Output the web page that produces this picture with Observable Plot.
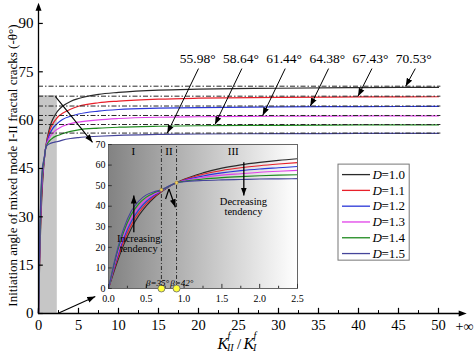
<!DOCTYPE html>
<html><head><meta charset="utf-8">
<script src="https://cdn.jsdelivr.net/npm/d3@7"></script>
<script src="https://cdn.jsdelivr.net/npm/@observablehq/plot@0.6"></script>
<style>
html,body{margin:0;padding:0;background:#fff;}
#wrap{position:relative;width:474px;height:353px;overflow:hidden;}
#wrap svg{position:absolute;}
#wrap text{font-family:'Liberation Serif','Times New Roman',serif;}
</style></head><body><div id="wrap"></div>
<script>
// K_II / K_I ratio sample points
const ratio = [0, 0.1, 0.2, 0.3, 0.4, 0.5, 0.6, 0.7, 0.8, 0.9, 1.0, 1.25, 1.5, 1.75, 2.0, 2.25, 2.5, 3, 4, 5, 7.5, 10, 15, 20, 30, 40, 50];
// initiation angle (-theta, degrees) per fractal dimension D
const theta10 = [0, 11.2, 21.1, 29.1, 35.4, 40.2, 44.0, 47.0, 49.5, 51.4, 53.1, 56.2, 58.5, 60.1, 61.3, 62.3, 63.1, 64.3, 65.8, 66.7, 68.0, 68.6, 69.3, 69.6, 69.9, 70.1, 70.15];
const theta11 = [0, 12.3, 22.7, 30.8, 36.8, 41.3, 44.6, 47.2, 49.6, 51.4, 52.9, 55.5, 57.4, 58.7, 59.7, 60.5, 61.2, 62.1, 63.4, 64.3, 65.4, 65.9, 66.5, 66.8, 67.05, 67.2, 67.25];
const theta12 = [0, 13.3, 24.3, 32.5, 38.2, 42.3, 45.2, 47.4, 49.6, 51.4, 52.6, 54.7, 56.2, 57.3, 58.1, 58.7, 59.3, 60.2, 61.2, 61.9, 62.8, 63.3, 63.7, 63.9, 64.1, 64.2, 64.25];
const theta13 = [0, 14.4, 25.8, 34.1, 39.7, 43.4, 45.8, 47.6, 49.7, 51.4, 52.4, 54.0, 55.1, 55.8, 56.5, 57.0, 57.4, 58.1, 58.9, 59.4, 60.1, 60.5, 60.9, 61.05, 61.2, 61.3, 61.33];
const theta14 = [0, 15.4, 27.4, 35.8, 41.1, 44.4, 46.4, 47.8, 49.7, 51.4, 52.1, 53.2, 53.9, 54.4, 54.8, 55.1, 55.3, 55.8, 56.5, 57.0, 57.5, 57.8, 58.1, 58.25, 58.4, 58.5, 58.52];
const theta15 = [0, 16.5, 29.0, 37.5, 42.5, 45.5, 47.0, 48.0, 49.8, 51.4, 51.9, 52.5, 52.8, 53.0, 53.2, 53.3, 53.4, 53.8, 54.3, 54.6, 55.0, 55.3, 55.55, 55.7, 55.8, 55.87, 55.9];
const dLabels = ["1.0", "1.1", "1.2", "1.3", "1.4", "1.5"];
const colors = ["#2a2a2a", "#e8202a", "#2a36d8", "#e040e8", "#1f8a1f", "#45459a"];
const asymptotes = [55.98, 58.64, 61.44, 64.38, 67.43, 70.53];
const asymptoteLabels = ["55.98°", "58.64°", "61.44°", "64.38°", "67.43°", "70.53°"];
const xTicks = [0, 5, 10, 15, 20, 25, 30, 35, 40, 45, 50];
const xMinor = [2.5, 7.5, 12.5, 17.5, 22.5, 27.5, 32.5, 37.5, 42.5, 47.5];
const yTicks = [0, 15, 30, 45, 60, 75, 90];
const insetXTicks = [0, 0.5, 1.0, 1.5, 2.0, 2.5];
const insetXMinor = [0.25, 0.75, 1.25, 1.75, 2.25];
const insetYTicks = [0, 10, 20, 30, 40, 50, 60, 70];
const betaRatios = [0.70, 0.90];
const betaLabels = ["β=35°", "β=42°"];
const crossTheta = [48.0, 51.4];
const regionLabels = ["I", "II", "III"];

const series = [theta10, theta11, theta12, theta13, theta14, theta15];
const rows = series.flatMap((s, k) => s.map((v, i) => ({r: ratio[i], theta: v, D: dLabels[k]})));
const insetRows = rows.filter(d => d.r <= 2.5);

const serif = "Liberation Serif";
const T = (data, opts) => Plot.text(data, {fontFamily: serif, ...opts});

const upHead = {draw(ctx, size) { const r = Math.sqrt(size / Math.PI); ctx.moveTo(0, -1.25 * r); ctx.lineTo(0.75 * r, 0.75 * r); ctx.lineTo(-0.75 * r, 0.75 * r); ctx.closePath(); }};
const rightHead = {draw(ctx, size) { const r = Math.sqrt(size / Math.PI); ctx.moveTo(1.25 * r, 0); ctx.lineTo(-0.75 * r, 0.75 * r); ctx.lineTo(-0.75 * r, -0.75 * r); ctx.closePath(); }};

// filled arrowhead marker (falls back to Plot.arrow if markers as functions are unsupported)
function filledHead(color) {
  const ns = "http://www.w3.org/2000/svg";
  const m = document.createElementNS(ns, "marker");
  m.setAttribute("viewBox", "-8 -3.5 9 7");
  m.setAttribute("markerWidth", 9);
  m.setAttribute("markerHeight", 7);
  m.setAttribute("markerUnits", "userSpaceOnUse");
  m.setAttribute("orient", "auto");
  m.setAttribute("refX", 0);
  m.setAttribute("refY", 0);
  const p = document.createElementNS(ns, "path");
  p.setAttribute("d", "M-8,-3L0,0L-8,3Z");
  p.setAttribute("fill", color);
  p.setAttribute("stroke", "none");
  m.appendChild(p);
  return m;
}
let useMarker = true;
function arrowMark(data, opts) {
  if (useMarker) return Plot.link(data, {...opts, markerEnd: filledHead});
  return Plot.arrow(data, {headLength: 6, ...opts});
}

function build() {
const main = Plot.plot({
  width: 474, height: 353,
  marginLeft: 38, marginRight: 8, marginTop: 2, marginBottom: 40,
  x: {domain: [0, 53.5], axis: null},
  y: {domain: [0, 96.5], axis: null},
  color: {domain: dLabels, range: colors},
  style: {fontFamily: serif, background: "white", color: "black", overflow: "visible"},
  marks: [
    Plot.rect([0], {x1: 0, x2: 2.35, y1: 0, y2: 67.6, fill: "#c6c6c6"}),
    Plot.line(rows, {x: "r", y: "theta", z: "D", stroke: "D", curve: "monotone-x", strokeWidth: 1.2}),
    Plot.ruleY(asymptotes, {y: d => d, x1: 0, x2: 50.3, stroke: "#2a2a2a", strokeWidth: 1, strokeDasharray: "5,2,1.5,2"}),
    // axes
    Plot.ruleX([0], {x: d => d, y1: 0, y2: 95, stroke: "black", strokeWidth: 1.3}),
    Plot.ruleY([0], {y: d => d, x1: 0, x2: 52.9, stroke: "black", strokeWidth: 1.3}),
    Plot.dot([0], {x: d => d, y: 94.9, r: 4, symbol: upHead, fill: "black", stroke: "none"}),
    Plot.dot([0], {x: 52.9, y: d => d, r: 4, symbol: rightHead, fill: "black", stroke: "none"}),
    Plot.ruleX(xTicks, {x: d => d, y1: 0, y2: 1.6, stroke: "black", strokeWidth: 1.2}),
    Plot.ruleX(xMinor, {x: d => d, y1: 0, y2: 0.9, stroke: "black", strokeWidth: 1}),
    Plot.ruleY(yTicks, {y: d => d, x1: 0, x2: 0.6, stroke: "black", strokeWidth: 1.2}),
    T(xTicks, {x: d => d, y: 0, dy: 12, text: d => String(d), fontSize: 14.5, lineAnchor: "middle"}),
    T(["+∞"], {x: 53.25, y: 0, dy: 13, text: d => d, fontSize: 14, lineAnchor: "middle"}),
    T(yTicks, {x: 0, y: d => d, dx: -5, text: d => String(d), fontSize: 15, textAnchor: "end", lineAnchor: "middle"}),
    // axis titles
    T(["Initiation angle of mixed mode I-II fractal cracks (-θ°)"], {x: -3.25, y: 45.9, text: d => d, rotate: -90, fontSize: 13, lineAnchor: "middle"}),
    T(["K"], {x: 25, y: 0, dx: -21, dy: 35, text: d => d, fontSize: 16, fontStyle: "italic", textAnchor: "start", lineAnchor: "bottom"}),
    T(["f"], {x: 25, y: 0, dx: -11, dy: 25, text: d => d, fontSize: 10, fontStyle: "italic", textAnchor: "start", lineAnchor: "bottom"}),
    T(["II"], {x: 25, y: 0, dx: -11.5, dy: 37.5, text: d => d, fontSize: 10, fontStyle: "italic", textAnchor: "start", lineAnchor: "bottom"}),
    T(["/"], {x: 25, y: 0, dx: -1.5, dy: 35, text: d => d, fontSize: 15, textAnchor: "start", lineAnchor: "bottom"}),
    T(["K"], {x: 25, y: 0, dx: 5, dy: 35, text: d => d, fontSize: 16, fontStyle: "italic", textAnchor: "start", lineAnchor: "bottom"}),
    T(["f"], {x: 25, y: 0, dx: 15, dy: 25, text: d => d, fontSize: 10, fontStyle: "italic", textAnchor: "start", lineAnchor: "bottom"}),
    T(["I"], {x: 25, y: 0, dx: 14.5, dy: 37.5, text: d => d, fontSize: 10, fontStyle: "italic", textAnchor: "start", lineAnchor: "bottom"}),
    // asymptote annotations
    T(asymptoteLabels, {x: (d, i) => 19.9 + i * 5.4, y: 79.1, text: d => d, fontSize: 13.5, lineAnchor: "middle"}),
    arrowMark(asymptotes, {x1: (d, i) => 20.0 + i * 5.42, y1: 76.0, x2: (d, i) => 16.1 + i * 5.96, y2: d => d, stroke: "black", strokeWidth: 1}),
    // zoom arrows
    arrowMark([0], {x1: 2.1, y1: 67.4, x2: 6.75, y2: 53.1, stroke: "black", strokeWidth: 1.1}),
    arrowMark([0], {x1: 2.4, y1: 0, x2: 7.1, y2: 5.3, stroke: "black", strokeWidth: 1.1}),
    // legend
    Plot.rect([0], {x1: 37.5, x2: 46.4, y1: 16.4, y2: 46.2, fill: "white", stroke: "#777", strokeWidth: 1}),
    Plot.ruleY(dLabels, {y: (d, i) => 43.1 - i * 4.9, x1: 38.0, x2: 41.5, stroke: d => d, strokeWidth: 1.3}),
    T(dLabels, {x: 41.75, y: (d, i) => 43.1 - i * 4.9, text: () => "D", fontSize: 13, fontStyle: "italic", textAnchor: "start", lineAnchor: "middle"}),
    T(dLabels, {x: 41.75, y: (d, i) => 43.1 - i * 4.9, dx: 9, text: d => "=" + d, fontSize: 13, textAnchor: "start", lineAnchor: "middle"})
  ]
});

const inset = Plot.plot({
  width: 225, height: 170,
  marginLeft: 28, marginRight: 8, marginTop: 6, marginBottom: 20,
  x: {domain: [0, 2.5], axis: null},
  y: {domain: [0, 70], axis: null},
  color: {domain: dLabels, range: colors},
  style: {fontFamily: serif, background: "transparent", color: "black", overflow: "visible"},
  marks: [
    Plot.rect([0], {x1: 0, x2: 2.5, y1: 0, y2: 70, fill: "url(#insetGrad)"}),
    Plot.ruleX(betaRatios, {x: d => d, y1: 0, y2: 70, stroke: "#222", strokeWidth: 0.9, strokeDasharray: "4,2,1,2"}),
    Plot.line(insetRows, {x: "r", y: "theta", z: "D", stroke: "D", curve: "monotone-x", strokeWidth: 1.1}),
    Plot.frame({stroke: "#666", strokeWidth: 1}),
    Plot.ruleX(insetXTicks, {x: d => d, y1: 0, y2: 2, stroke: "#333"}),
    Plot.ruleX(insetXMinor, {x: d => d, y1: 0, y2: 1.1, stroke: "#333"}),
    Plot.ruleY(insetYTicks, {y: d => d, x1: 0, x2: 0.05, stroke: "#333"}),
    T(insetXTicks, {x: d => d, y: 0, dy: 10, text: d => d.toFixed(1), fontSize: 10, lineAnchor: "middle"}),
    T(insetYTicks, {x: 0, y: d => d, dx: -3, text: d => String(d), fontSize: 10, textAnchor: "end", lineAnchor: "middle"}),
    T(regionLabels, {x: (d, i) => [0.33, 0.80, 1.65][i], y: 66.6, text: d => d, fontSize: 11, lineAnchor: "middle"}),
    arrowMark([0], {x1: 0.335, y1: 27.4, x2: 0.335, y2: 45.2, stroke: "black", strokeWidth: 1.3}),
    T(["Increasing\ntendency"], {x: 0.40, y: 21.9, text: d => d, fontSize: 10.5, lineHeight: 0.95, lineAnchor: "middle"}),
    arrowMark([0], {x1: 1.79, y1: 61.4, x2: 1.79, y2: 45.2, stroke: "black", strokeWidth: 1.3}),
    T(["Decreasing\ntendency"], {x: 1.785, y: 39.6, text: d => d, fontSize: 10.5, lineHeight: 0.95, lineAnchor: "middle"}),
    Plot.link([0], {x1: 0.755, y1: 43.5, x2: 0.80, y2: 48.4, stroke: "black", strokeWidth: 1.2}),
    arrowMark([0], {x1: 0.80, y1: 48.4, x2: 0.885, y2: 39.5, stroke: "black", strokeWidth: 1.2}),
    Plot.dot(betaRatios, {x: d => d, y: crossTheta.map(v => v), r: 1.6, fill: "#f0d060", stroke: "#a08020", strokeWidth: 0.5}),
    Plot.dot(betaRatios, {x: d => d, y: 0, r: 3.5, fill: "#ffff3a", stroke: "#666", strokeWidth: 0.8}),
    T(betaLabels, {x: (d, i) => [0.648, 0.97][i], y: 2.4, text: d => d, fontSize: 9, fontStyle: "italic", lineAnchor: "middle"})
  ]
});
return [main, inset];
}

let built;
try { built = build(); } catch (e) { useMarker = false; built = build(); }
const [main, inset] = built;

const defs = d3.select(inset).insert("defs", ":first-child");
const grad = defs.append("linearGradient").attr("id", "insetGrad").attr("x1", 0).attr("x2", 1).attr("y1", 0).attr("y2", 0);
grad.append("stop").attr("offset", 0).attr("stop-color", "#828282");
grad.append("stop").attr("offset", 1).attr("stop-color", "#ffffff");

main.style.left = "0px"; main.style.top = "0px";
inset.style.left = "80px"; inset.style.top = "138px";
const wrap = document.getElementById("wrap");
wrap.appendChild(main);
wrap.appendChild(inset);
</script></body></html>
